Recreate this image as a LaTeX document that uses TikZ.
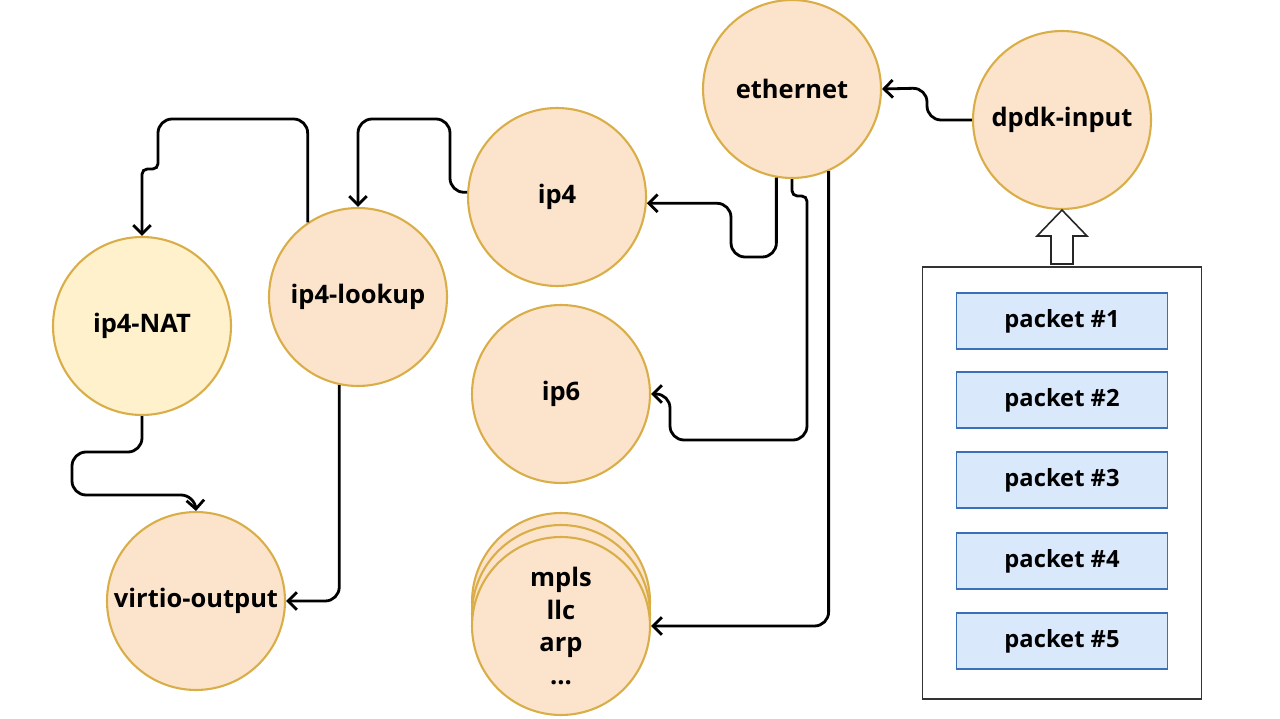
\documentclass[tikz,border=0pt]{standalone}
\usepackage{fontspec}
\setmainfont{Open Sans}
\usetikzlibrary{arrows.meta}

\definecolor{nodefill}{HTML}{FCE4CC}
\definecolor{natfill}{HTML}{FFF1CC}
\definecolor{nodeline}{HTML}{D9AE48}
\definecolor{pktfill}{HTML}{DAE8FC}
\definecolor{pktline}{HTML}{3A70B8}

\tikzset{
  graphnode/.style={circle, draw=nodeline, fill=nodefill, line width=1.2pt,
    minimum size=3.56cm, inner sep=0pt, align=center,
    font=\fontsize{14.5}{18.5}\selectfont\bfseries},
  pkt/.style={rectangle, draw=pktline, fill=pktfill, line width=0.9pt,
    minimum width=4.22cm, minimum height=1.12cm,
    font=\fontsize{13.5}{16}\selectfont\bfseries},
  edge/.style={line width=1.6pt, rounded corners=8pt,
    -{Straight Barb[length=5pt,width=10pt,line width=1.6pt]}}
}

\begin{document}
\begin{tikzpicture}[x=0.02cm,y=-0.02cm]
\useasboundingbox (0,0) rectangle (1280,719);

% Graph nodes
\node[graphnode] (ethernet) at (792,89) {ethernet};
\node[graphnode] (dpdk) at (1062,120) {dpdk-input};
\node[graphnode] (ip4) at (557,197) {ip4};
\node[graphnode] (lookup) at (358,297) {ip4-lookup};
\node[graphnode, fill=natfill] (nat) at (142,326) {ip4-NAT};
\node[graphnode] (ip6) at (561,394) {ip6};
\node[graphnode] (virtio) at (196,601) {virtio-output};

% Stacked nodes
\node[graphnode] (other3) at (561,602) {};
\node[graphnode] (other2) at (561,614) {};
\node[graphnode] (other) at (561,626) {mpls\\llc\\arp\\...};

% Packet vector
\node[draw=black!80, line width=0.9pt, minimum width=5.58cm, minimum height=8.64cm] (vector) at (1062,483) {};
\foreach \i/\y in {1/321, 2/400, 3/480, 4/561, 5/641}
  \node[pkt] (pkt\i) at (1062,\y) {packet \#\i};

% Hollow arrow
\draw[line width=0.9pt, draw=black!85, fill=white] (dpdk.south) -- ++(25,26) -- ++(-14,0) -- ++(0,28)
  -- ++(-22,0) -- ++(0,-28) -- ++(-14,0) -- cycle;

% Edges
\draw[edge] (dpdk.west) -- (927,120) -- (927,88) -- (ethernet.east);
\draw[edge] (ethernet.-100) |- (731,257) |- (ip4.-4);
\draw[edge] (ethernet.south) [rounded corners=3pt] -- (792,196) -- (807,196)
  [rounded corners=8pt] -- (807,440) -- (670,440) -- (670,394) -- (ip6.east);
\draw[edge] (ethernet.-66) |- (other.east);
\draw[edge] (ip4.177) -| (450,119) -| (lookup.north);
\draw[edge] (lookup.124) |- (158,119) [rounded corners=3pt] -- (158,169) -- (142,169) -- (nat.north);
\draw[edge] (nat.south) -- (142,452) -- (72,452) -- (72,495) -- (195,495) -- (virtio.north);
\draw[edge] (lookup.-102) |- (virtio.east);

\end{tikzpicture}
\end{document}
